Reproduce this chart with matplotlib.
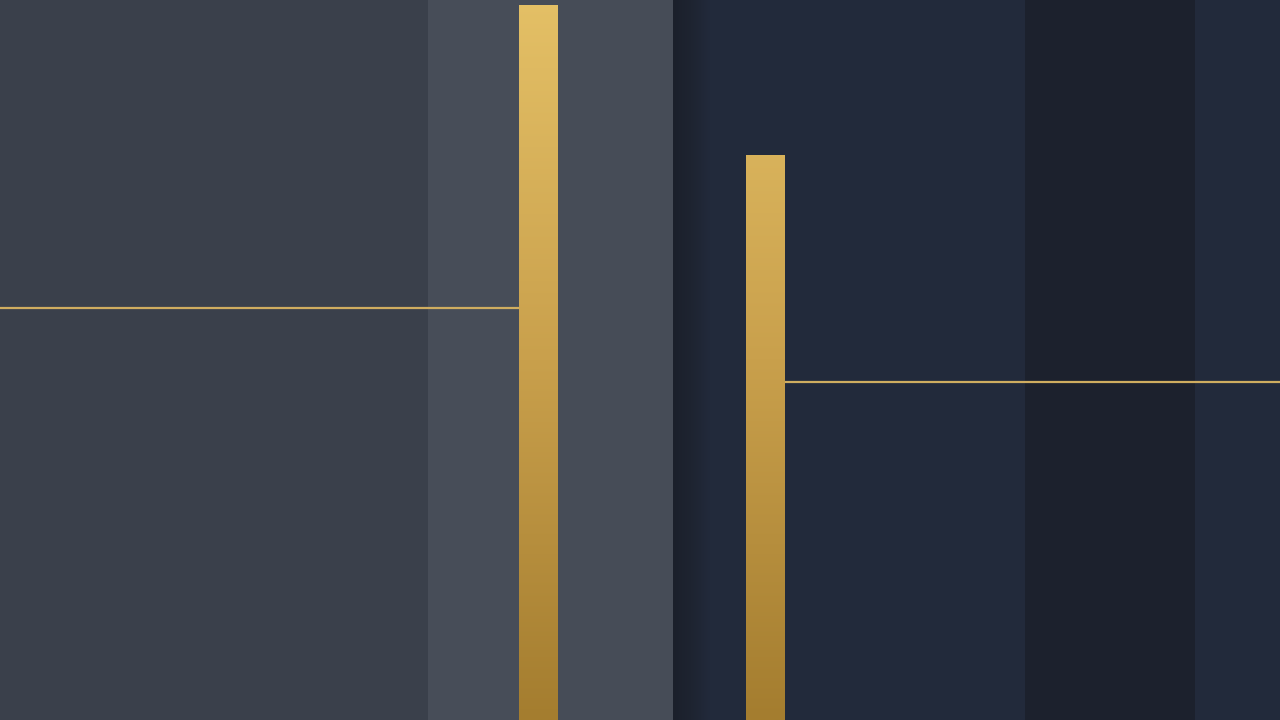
import numpy as np
import matplotlib
matplotlib.use("Agg")
import matplotlib.pyplot as plt
from matplotlib.colors import LinearSegmentedColormap

# background bands (left edge, right edge, colour)
band_edges = [0.0, 4.28, 6.73, 7.10, 10.25, 11.95, 12.8]
band_colors = ["#3a404b", "#464c57", None, "#222a3b", "#1c212d", "#222a3b"]

# bars
bar_x = [5.38, 7.655]
bar_values = [99.3, 78.5]
bar_width = 0.385

# horizontal reference lines: level, start, end
line_levels = [57.2, 46.9]
line_starts = [0.0, 7.85]
line_ends = [5.19, 12.8]

fig = plt.figure(figsize=(12.8, 7.2), dpi=100)
ax = fig.add_axes([0, 0, 1, 1])
ax.set_xlim(0, 12.8)
ax.set_ylim(0, 100)
ax.axis("off")

for i, c in enumerate(band_colors):
    x0, x1 = band_edges[i], band_edges[i + 1]
    if c is None:
        # dark shadow strip fading into the right panel
        grad = np.linspace(0, 1, 64).reshape(1, -1)
        cm = LinearSegmentedColormap.from_list("sh", ["#1b202b", "#1e2431", "#222a3b"])
        ax.imshow(grad, cmap=cm, extent=[x0, x1, 0, 100], aspect="auto", zorder=0)
    else:
        ax.axvspan(x0, x1, color=c, lw=0, zorder=0)

# soft glow in the light panel
ax.axvspan(4.28, 5.2, color="#4a505b", alpha=0.35, lw=0, zorder=0.5)

gold = LinearSegmentedColormap.from_list("gold", ["#a47d2f", "#c9a04c", "#e4c066"])
vgrad = np.linspace(0, 1, 256).reshape(-1, 1)
bars = ax.bar(bar_x, bar_values, width=bar_width, color="none", lw=0, zorder=3)
for b in bars:
    im = ax.imshow(vgrad, cmap=gold, origin="lower", extent=[0, 12.8, 0, 100],
                   aspect="auto", zorder=3)
    im.set_clip_path(b)

for lvl, s, e in zip(line_levels, line_starts, line_ends):
    ax.hlines(lvl, s, e, color="#cfad60", lw=1.6, zorder=2)

ax.set_xlim(0, 12.8)
ax.set_ylim(0, 100)
fig.savefig("out.png", dpi=100)
